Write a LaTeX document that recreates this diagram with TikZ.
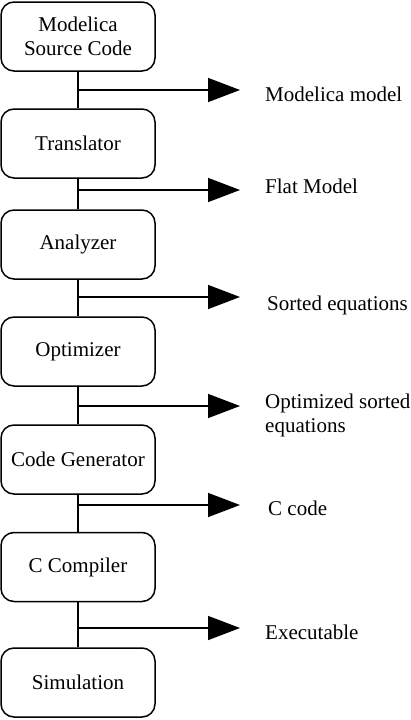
\documentclass[tikz,border=0pt]{standalone}
\usepackage{fontspec}
\setmainfont{LiberationSerif-Regular.ttf}
\usetikzlibrary{arrows.meta}
\tikzset{
  stage/.style={draw,line width=1.5pt,rounded corners=13pt,
    minimum width=154pt,minimum height=69pt,align=center,
    font=\fontsize{21}{24}\selectfont},
  outarrow/.style={line width=1.5pt,-{Triangle[length=32pt,width=24pt]}},
  outtext/.style={anchor=west,inner sep=0pt,align=left,
    font=\fontsize{21}{24}\selectfont}
}
\begin{document}
\begin{tikzpicture}[x=1pt,y=-1pt]
    \useasboundingbox (0,0) rectangle (410,720);

    \foreach \n/\y/\t in
    {src/36.5/{Modelica\\Source Code},trans/143.5/Translator,
     anal/244.5/Analyzer,opt/351.5/Optimizer,
     gen/459.5/Code Generator,comp/567/C Compiler,sim/682.5/Simulation}
    {\node[stage] (\n) at (78,\y) {\t};}

    \foreach \a/\b in
    {src/trans,trans/anal,anal/opt,opt/gen,gen/comp,comp/sim}
    {\draw[line width=1.5pt] (\a) -- (\b);}

    \foreach \n/\y/\x/\ty/\t in
    {model/90/265/94/Modelica model,flat/190/265/186/Flat Model,
     sorted/297/267/305/Sorted equations,
     optsorted/406/265/415/{Optimized sorted\\equations},
     ccode/505/268/508/C code,exe/628/265/632/Executable}
    {\coordinate (\n s) at (78,\y);
     \coordinate (\n e) at (240,\y);
     \draw[outarrow] (\n s) -- (\n e);
     \node[outtext] (\n) at (\x,\ty) {\t};}
  \end{tikzpicture}
\end{document}
